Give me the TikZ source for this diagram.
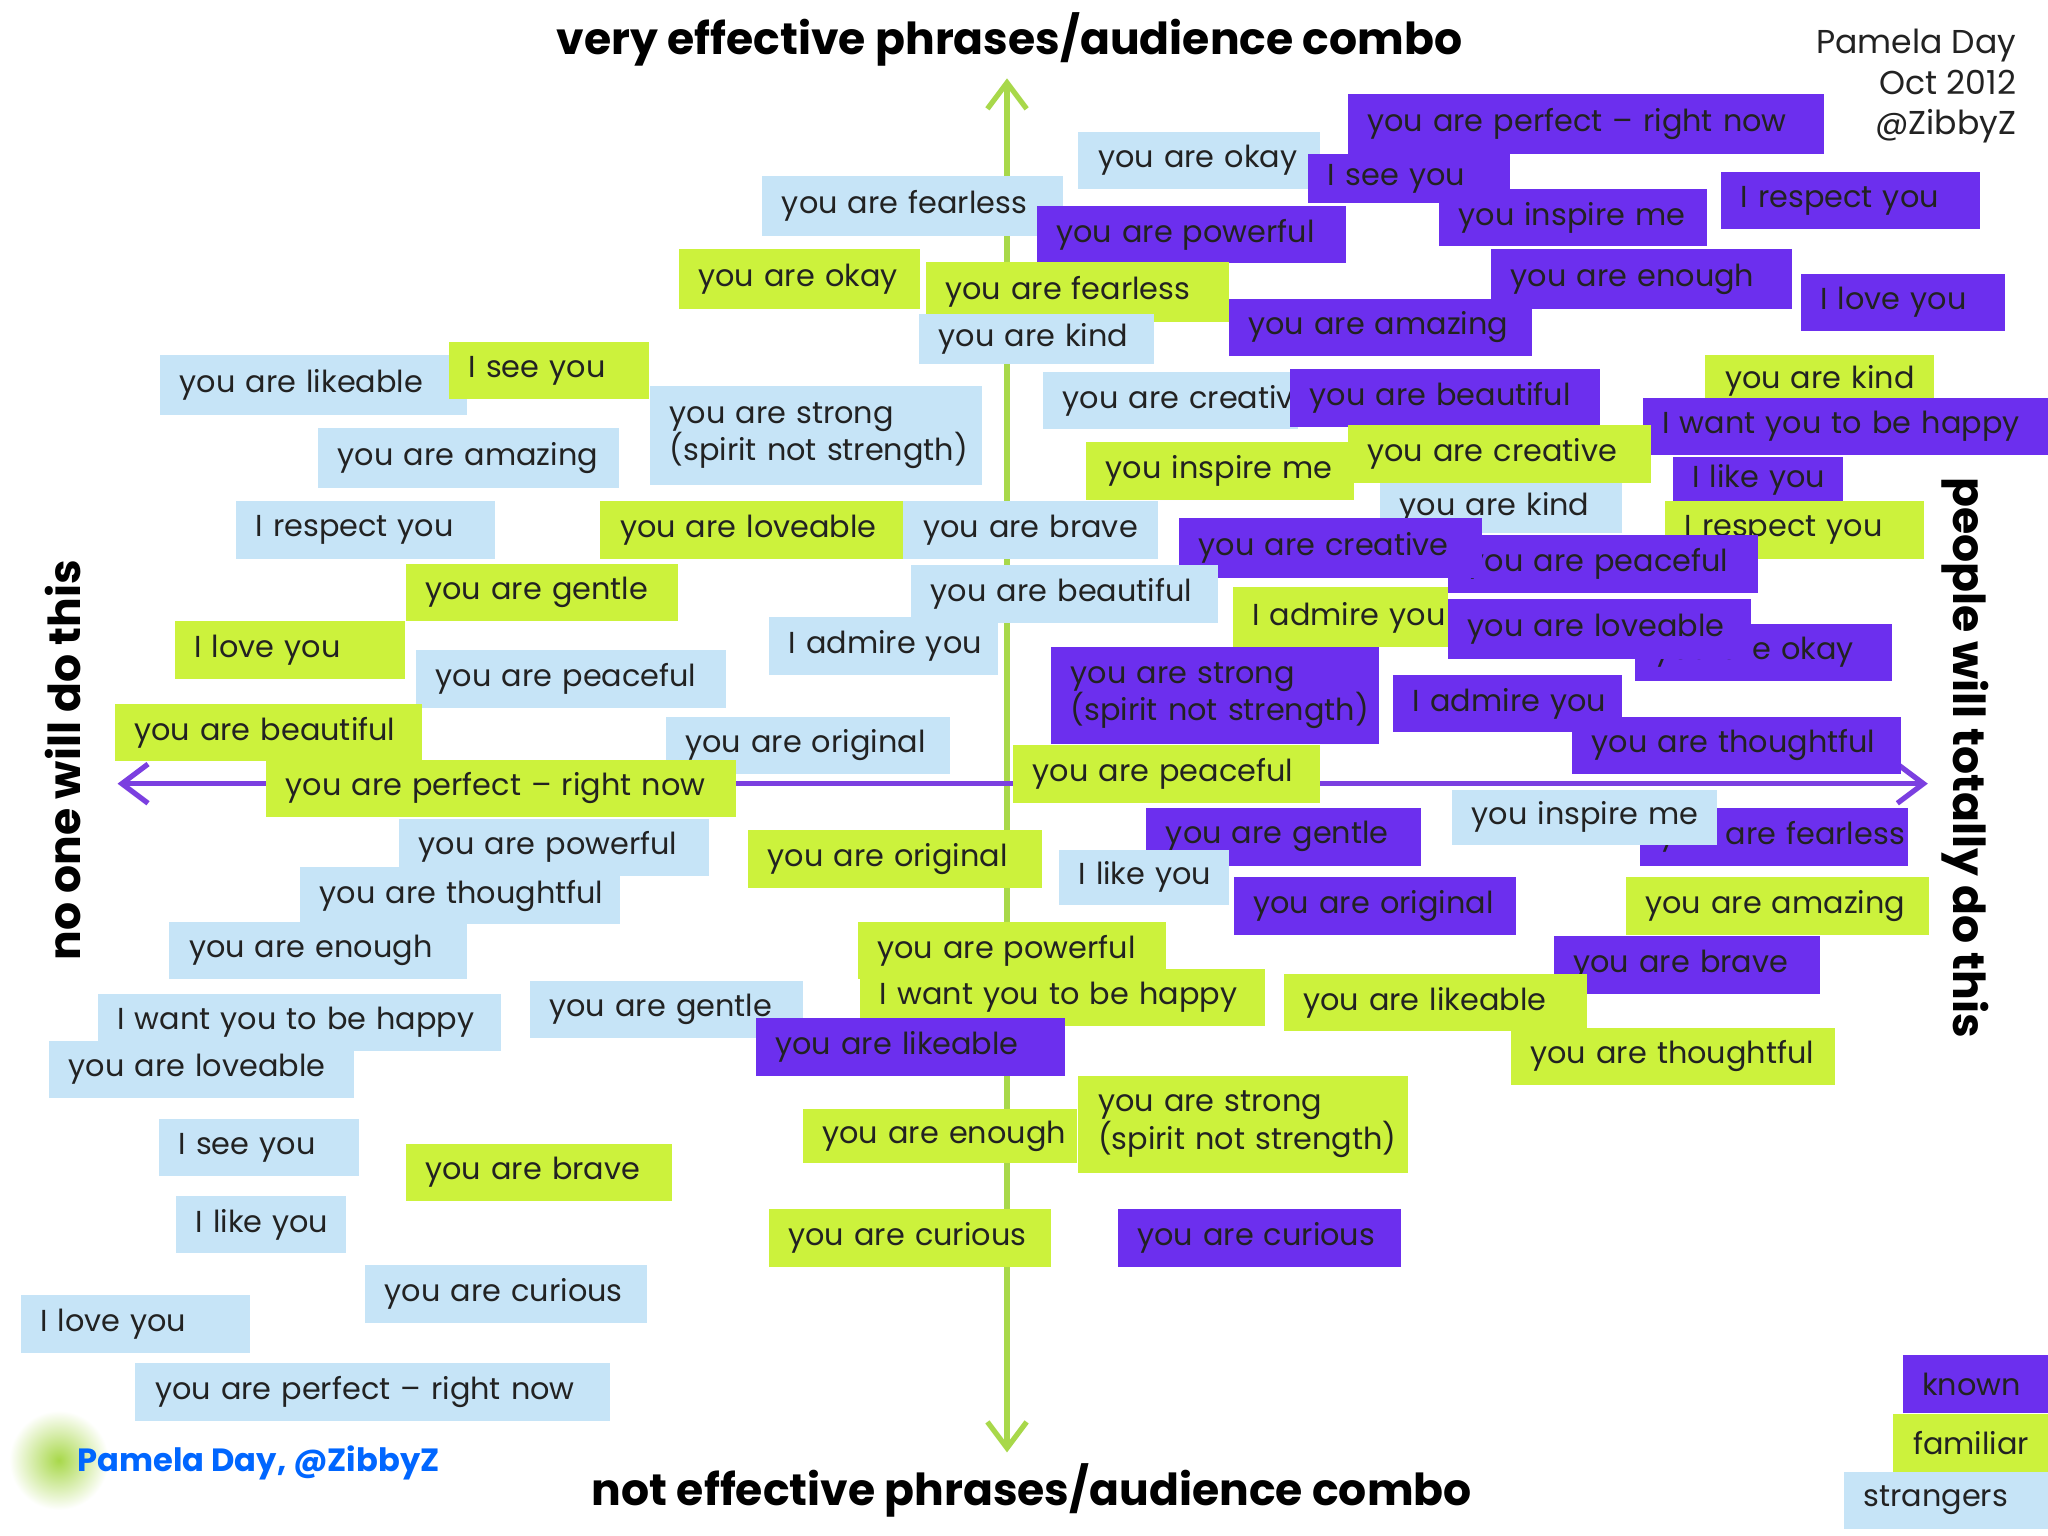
\documentclass[tikz,border=0pt]{standalone}
\usepackage{fontspec}
\setmainfont{Poppins}
\usetikzlibrary{arrows.meta}
\definecolor{cB}{HTML}{C6E4F7}
\definecolor{cG}{HTML}{CCF23C}
\definecolor{cP}{HTML}{6C2FEE}
\definecolor{axG}{HTML}{A8D84A}
\definecolor{axP}{HTML}{7B3FE0}
\definecolor{txt}{HTML}{222222}
\newcounter{bxn}
\newcommand\bx[6]{\stepcounter{bxn}\node[box,fill=#1,minimum width=#4*0.01cm,minimum height=#5*0.01cm,text width=(#4-30)*0.01cm] (b\thebxn) at (#2,#3) {#6};}
\newcommand\tl[2]{\mbox{#1}\\\mbox{#2}}
\tikzset{box/.style={anchor=north west,inner xsep=0.15cm,inner ysep=0pt,align=left,text=txt,font=\fontsize{6.6}{8.2}\selectfont},
ttl/.style={font=\bfseries\fontsize{9.6}{11}\selectfont,text=black}}
\begin{document}
\begin{tikzpicture}[x=0.01cm,y=-0.01cm]
\useasboundingbox (0,0) rectangle (1568,1176);
\fill[white] (0,0) rectangle (1568,1176);
\coordinate (vt) at (771,60); \coordinate (vb) at (771,1112);
\coordinate (hl) at (90,600); \coordinate (hr) at (1476,600);
\draw[axG,line width=0.04cm,{Straight Barb[length=0.2cm,width=0.3cm]}-{Straight Barb[length=0.2cm,width=0.3cm]}] (vt) -- (vb);
\draw[axP,line width=0.04cm,{Straight Barb[length=0.2cm,width=0.3cm]}-{Straight Barb[length=0.2cm,width=0.3cm]}] (hl) -- (hr);
\node[ttl] (t1) at (773,30) {very effective phrases/audience combo};
\node[ttl] (t2) at (790,1141) {not effective phrases/audience combo};
\node[ttl,rotate=90] (t3) at (48,582) {no one will do this};
\node[ttl,rotate=-90] (t4) at (1505,580) {people will totally do this};
\node[anchor=north east,align=right,font=\fontsize{7.2}{8.8}\selectfont,text=txt] (au) at (1556,10) {Pamela Day\\Oct 2012\\@ZibbyZ};
\shade[inner color=axG,outer color=white] (45,1118) circle (38);
\node[font=\bfseries\fontsize{7}{8}\selectfont,text=blue!60!cyan] (sig) at (198,1120) {Pamela Day, @ZibbyZ};
\bx{cB}{825}{100}{185}{44}{\mbox{you are okay}}
\bx{cP}{1031}{71}{365}{46}{\mbox{you are perfect -- right now}}
\bx{cP}{1001}{117}{154}{38}{\mbox{I see you}}
\bx{cB}{583}{134}{230}{46}{\mbox{you are fearless}}
\bx{cP}{793}{157}{237}{44}{\mbox{you are powerful}}
\bx{cP}{1101}{144}{205}{44}{\mbox{you inspire me}}
\bx{cP}{1317}{131}{198}{44}{\mbox{I respect you}}
\bx{cG}{519}{190}{185}{46}{\mbox{you are okay}}
\bx{cG}{708}{200}{232}{46}{\mbox{you are fearless}}
\bx{cB}{703}{240}{180}{38}{\mbox{you are kind}}
\bx{cP}{1141}{190}{230}{46}{\mbox{you are enough}}
\bx{cP}{940}{228}{232}{44}{\mbox{you are amazing}}
\bx{cP}{1378}{209}{156}{44}{\mbox{I love you}}
\bx{cB}{122}{271}{235}{46}{\mbox{you are likeable}}
\bx{cG}{343}{261}{153}{44}{\mbox{I see you}}
\bx{cB}{497}{295}{254}{76}{\tl{you are strong}{(spirit not strength)}}
\bx{cB}{798}{284}{195}{44}{\mbox{you are creative}}
\bx{cP}{987}{282}{237}{44}{\mbox{you are beautiful}}
\bx{cG}{1305}{271}{175}{40}{\mbox{you are kind}}
\bx{cP}{1257}{304}{311}{44}{\mbox{I want you to be happy}}
\bx{cB}{243}{327}{230}{46}{\mbox{you are amazing}}
\bx{cG}{831}{338}{205}{44}{\mbox{you inspire me}}
\bx{cG}{1031}{325}{232}{44}{\mbox{you are creative}}
\bx{cP}{1280}{349}{130}{36}{\mbox{I like you}}
\bx{cB}{1056}{369}{185}{38}{\mbox{you are kind}}
\bx{cB}{180}{383}{198}{44}{\mbox{I respect you}}
\bx{cG}{459}{383}{232}{44}{\mbox{you are loveable}}
\bx{cB}{691}{383}{195}{44}{\mbox{you are brave}}
\bx{cG}{1274}{383}{198}{44}{\mbox{I respect you}}
\bx{cP}{1108}{409}{237}{44}{\mbox{you are peaceful}}
\bx{cP}{902}{396}{232}{46}{\mbox{you are creative}}
\bx{cG}{310}{431}{208}{44}{\mbox{you are gentle}}
\bx{cB}{697}{432}{235}{44}{\mbox{you are beautiful}}
\bx{cG}{943}{449}{165}{46}{\mbox{I admire you}}
\bx{cG}{133}{475}{176}{44}{\mbox{I love you}}
\bx{cP}{1251}{477}{197}{44}{\mbox{you are okay}}
\bx{cP}{1108}{458}{232}{46}{\mbox{you are loveable}}
\bx{cB}{588}{472}{175}{44}{\mbox{I admire you}}
\bx{cB}{318}{497}{237}{44}{\mbox{you are peaceful}}
\bx{cP}{804}{495}{251}{74}{\tl{you are strong}{(spirit not strength)}}
\bx{cP}{1066}{516}{175}{44}{\mbox{I admire you}}
\bx{cG}{87}{538}{235}{44}{\mbox{you are beautiful}}
\bx{cB}{509}{548}{218}{44}{\mbox{you are original}}
\bx{cP}{1203}{548}{252}{44}{\mbox{you are thoughtful}}
\bx{cG}{203}{581}{360}{44}{\mbox{you are perfect -- right now}}
\bx{cG}{775}{570}{235}{44}{\mbox{you are peaceful}}
\bx{cP}{1255}{618}{205}{44}{\mbox{you are fearless}}
\bx{cB}{1111}{604}{203}{42}{\mbox{you inspire me}}
\bx{cP}{877}{618}{210}{44}{\mbox{you are gentle}}
\bx{cB}{305}{626}{237}{44}{\mbox{you are powerful}}
\bx{cG}{572}{635}{225}{44}{\mbox{you are original}}
\bx{cB}{810}{650}{130}{42}{\mbox{I like you}}
\bx{cB}{229}{663}{245}{44}{\mbox{you are thoughtful}}
\bx{cP}{944}{671}{216}{44}{\mbox{you are original}}
\bx{cG}{1244}{671}{232}{44}{\mbox{you are amazing}}
\bx{cB}{129}{705}{228}{44}{\mbox{you are enough}}
\bx{cG}{656}{705}{236}{44}{\mbox{you are powerful}}
\bx{cP}{1189}{716}{204}{44}{\mbox{you are brave}}
\bx{cG}{658}{741}{310}{44}{\mbox{I want you to be happy}}
\bx{cB}{405}{750}{209}{44}{\mbox{you are gentle}}
\bx{cG}{982}{745}{232}{44}{\mbox{you are likeable}}
\bx{cB}{74}{760}{309}{44}{\mbox{I want you to be happy}}
\bx{cP}{578}{779}{237}{44}{\mbox{you are likeable}}
\bx{cB}{37}{796}{233}{44}{\mbox{you are loveable}}
\bx{cG}{1156}{786}{248}{44}{\mbox{you are thoughtful}}
\bx{cG}{825}{823}{252}{74}{\tl{you are strong}{(spirit not strength)}}
\bx{cG}{614}{848}{210}{42}{\mbox{you are enough}}
\bx{cB}{121}{856}{153}{44}{\mbox{I see you}}
\bx{cG}{310}{875}{204}{44}{\mbox{you are brave}}
\bx{cB}{134}{915}{130}{44}{\mbox{I like you}}
\bx{cG}{588}{925}{216}{44}{\mbox{you are curious}}
\bx{cP}{855}{925}{217}{44}{\mbox{you are curious}}
\bx{cB}{279}{968}{216}{44}{\mbox{you are curious}}
\bx{cB}{15}{991}{176}{44}{\mbox{I love you}}
\bx{cB}{103}{1043}{363}{44}{\mbox{you are perfect -- right now}}
\bx{cP}{1456}{1037}{112}{44}{\mbox{known}}
\bx{cG}{1449}{1082}{119}{44}{\mbox{familiar}}
\bx{cB}{1411}{1126}{157}{44}{\mbox{strangers}}
\end{tikzpicture}
\end{document}
